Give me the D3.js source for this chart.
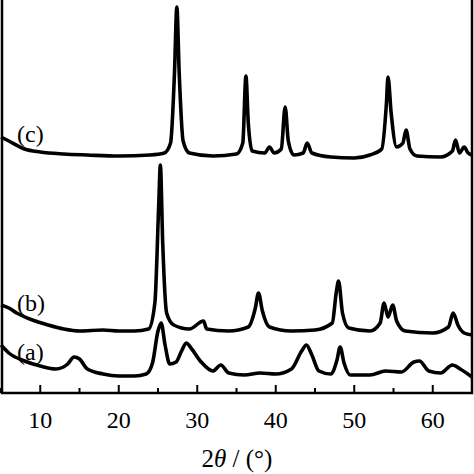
<!DOCTYPE html><html><head><meta charset="utf-8">
<script src="https://cdn.jsdelivr.net/npm/d3@7"></script>
<style>body{margin:0;background:#fff}</style></head><body>
<script>
// XRD patterns: [2theta, intensity (a.u.)]
const seriesA = [[5,48],[6,40],[8,32],[10,27],[12,24],[13.5,29],[14.3,36],[15,34],[16,24],[18,19],[20,17],[22,17],[23.5,19],[24.3,30],[25,62],[25.4,70],[25.9,48],[26.5,29],[27.3,31],[28,42],[28.6,50],[29.3,44],[30.5,31],[32,22],[33,28],[34,20],[36,18],[38,20],[40,19],[42,24],[43.3,42],[43.9,48],[44.6,38],[45.5,22],[47,19],[47.8,33],[48.2,46],[48.7,30],[49.5,18],[52,18],[54,22],[56,21],[57.6,31],[58.3,32],[59.5,22],[61,20],[62.5,28],[63.5,24],[65,16]];
const seriesB = [[5,88],[6,85],[7,80],[9,73],[11,68],[13,64],[15,62],[18,63],[20,62],[22,62],[23.8,64],[24.6,90],[25.1,190],[25.3,228],[25.6,150],[26.1,80],[27,68],[29,64],[30.8,72],[31.2,64],[34,62],[36.5,66],[37.4,85],[37.8,100],[38.3,82],[39.2,66],[42,62],[45,63],[47.2,70],[47.7,100],[48,112],[48.5,80],[49.3,65],[52,62],[53.3,70],[53.8,90],[54.3,76],[54.9,88],[55.4,72],[56.5,62],[60,60],[62,66],[62.6,80],[63.2,68],[64,60],[65,58]];
const seriesC = [[5,256],[6,252],[8,244],[10,241],[13,239],[16,238],[20,237],[24,238],[25.8,240],[26.6,250],[27.1,320],[27.4,386],[27.7,320],[28.2,252],[29,240],[32,237],[35,239],[35.8,250],[36.2,317],[36.5,270],[37,242],[38.6,240],[39.2,246],[39.8,240],[40.7,244],[41.2,286],[41.6,252],[42.3,238],[43.5,240],[44,250],[44.6,240],[47,236],[50,235],[52,238],[53.5,244],[54.1,290],[54.3,316],[54.7,280],[55.4,246],[56.2,250],[56.6,263],[57.1,244],[58,237],[61,236],[62.5,242],[62.9,253],[63.4,240],[64,246],[64.5,240],[65,238]];
const xTicks = [10,20,30,40,50,60];
const labels = [["(a)",seriesA],["(b)",seriesB],["(c)",seriesC]];

const W=474,H=474, L=1, R=472, B=393, T=0;
const svg=d3.select("body").append("svg").attr("width",W).attr("height",H);
const x=d3.scaleLinear().domain([5,65]).range([L,R]);
const y=d3.scaleLinear().domain([0,393]).range([B,T]);
const line=d3.line().x(d=>x(d[0])).y(d=>y(d[1])).curve(d3.curveMonotoneX);
[seriesA,seriesB,seriesC].forEach(s=>svg.append("path").attr("d",line(s)).attr("fill","none").attr("stroke","#000").attr("stroke-width",3.6).attr("stroke-linejoin","round"));
svg.append("path").attr("d",`M${L+1},${T}V${B}H${R}V${T}`).attr("fill","none").attr("stroke","#000").attr("stroke-width",2.5);
const ticks=d3.range(5,66,5);
svg.selectAll(".tk").data(ticks).enter().append("line").attr("x1",d=>x(d)).attr("x2",d=>x(d)).attr("y1",B).attr("y2",d=>B-(d%10===0?8:5)).attr("stroke","#000").attr("stroke-width",2);
svg.selectAll(".tl").data(xTicks).enter().append("text").attr("x",d=>x(d)).attr("y",428).attr("text-anchor","middle").attr("font-family","Liberation Serif").attr("font-size",24).text(d=>d);
const t=svg.append("text").attr("x",237).attr("y",467).attr("text-anchor","middle").attr("font-family","Liberation Serif").attr("font-size",25);
t.append("tspan").text("2");t.append("tspan").attr("font-style","italic").text("θ");t.append("tspan").text(" / (°)");
const lp={"(a)":[17,360],"(b)":[17,311],"(c)":[17,142]};
labels.forEach(([l])=>svg.append("text").attr("x",lp[l][0]).attr("y",lp[l][1]).attr("font-family","Liberation Serif").attr("font-size",24).text(l));
</script></body></html>
